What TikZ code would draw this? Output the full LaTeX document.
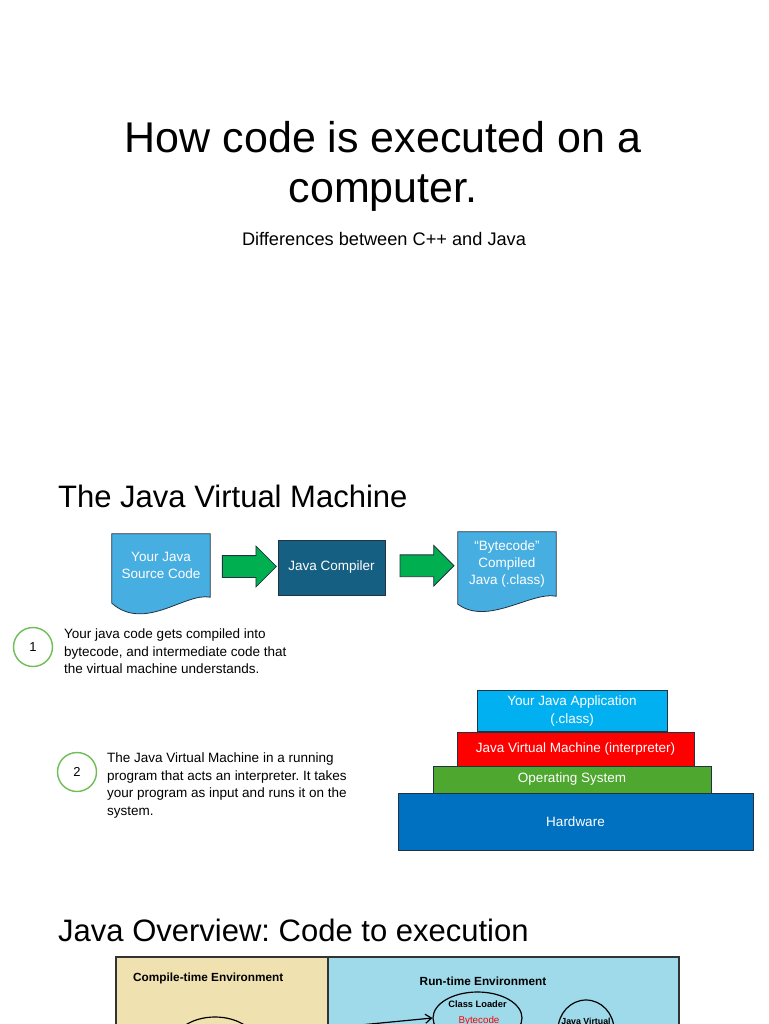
\documentclass[tikz,border=0pt]{standalone}
\usepackage{fontspec}
\setmainfont{Liberation Sans}
\frenchspacing
\usetikzlibrary{shapes.arrows,shapes.geometric,arrows.meta,calc}
\definecolor{docblue}{RGB}{71,174,225}
\definecolor{compteal}{RGB}{21,96,130}
\definecolor{arrowgreen}{RGB}{0,176,80}
\definecolor{circgreen}{RGB}{110,190,85}
\definecolor{appblue}{RGB}{0,176,240}
\definecolor{jvmred}{RGB}{255,0,0}
\definecolor{osgreen}{RGB}{78,167,46}
\definecolor{hwblue}{RGB}{0,112,192}
\definecolor{wheatbg}{RGB}{240,226,176}
\definecolor{skybg}{RGB}{158,218,234}
\definecolor{edgedark}{RGB}{35,50,65}
\begin{document}
\begin{tikzpicture}[x=1pt,y=-1pt,
  docbox/.style={minimum width=98pt,inner sep=0pt,align=center,text=white,font=\fontsize{13.5}{17}\selectfont},
  docshape/.style={fill=docblue,draw=edgedark,line width=0.8pt},
  bigarrow/.style={single arrow,draw=edgedark,fill=arrowgreen,line width=0.8pt,minimum height=54pt,
     single arrow head extend=9.5pt,single arrow tip angle=90,inner sep=0pt,text height=21pt,text depth=0pt,text width=0pt},
  stackbox/.style={draw=edgedark,line width=0.8pt,inner sep=0pt,align=center,text=white,font=\fontsize{13.5}{18}\selectfont},
  stepcircle/.style={circle,draw=circgreen,line width=1.4pt,minimum size=39pt,inner sep=0pt,font=\fontsize{13}{15}\selectfont},
  bodytext/.style={anchor=west,align=left,inner sep=0pt,font=\fontsize{13.5}{17.5}\selectfont},
  heading/.style={anchor=base west,inner sep=0pt,font=\fontsize{31}{36}\selectfont},
  envlabel/.style={inner sep=0pt,font=\bfseries\fontsize{11.8}{14}\selectfont},
  bubble/.style={ellipse,draw=black,line width=1.2pt}
]
\useasboundingbox (0,0) rectangle (768,1024);
\clip (0,0) rectangle (768,1024);
\fill[white] (0,0) rectangle (768,1024);

% Title
\node[anchor=north,inner sep=0pt,align=center,font=\fontsize{43}{50}\selectfont] (title) at (383,121)
  {How code is executed on a\\computer.};
\node[anchor=base,inner sep=0pt,font=\fontsize{18.2}{21}\selectfont] (subtitle) at (384,245)
  {Differences between C++ and Java};

% Section 1
\node[heading] (h1) at (58,507) {The Java Virtual Machine};

\node[docbox,minimum height=63pt] (doc1) at (161,565.5) {};
\draw[docshape] (doc1.north west) -- (doc1.north east) -- (doc1.south east)
   .. controls +(-25,-5) and +(33,29) .. ($(doc1.south west)+(0,6)$) -- cycle;
\node[docbox,minimum height=63pt] (doc1t) at (doc1.center) {Your Java\\Source Code};

\node[minimum width=107pt,minimum height=55pt,fill=compteal,draw=edgedark,line width=0.8pt,
      text=white,inner sep=0pt,font=\fontsize{13.5}{17}\selectfont] (comp) at (331.5,567.5) {Java Compiler};

\node[docbox,minimum height=64pt] (doc2) at (507,564) {};
\draw[docshape] (doc2.north west) -- (doc2.north east) -- (doc2.south east)
   .. controls +(-25,-5) and +(30,22) .. ($(doc2.south west)+(0,8)$) -- cycle;
\node[docbox,minimum height=64pt] (doc2t) at (doc2.center) {“Bytecode”\\Compiled\\Java (.class)};

\node[bigarrow] (arr1) at ($(doc1.east)!0.5!(comp.west)$) {};
\node[bigarrow] (arr2) at ($(comp.east)!0.5!(doc2.west)$) {};

\node[stepcircle] (c1) at (33,647) {1};
\node[bodytext] (t1) at (64,651.5) {Your java code gets compiled into\\bytecode, and intermediate code that\\the virtual machine understands.};

\node[stepcircle] (c2) at (77,772) {2};
\node[bodytext] (t2) at (107,785.5) {The Java Virtual Machine in a running\\program that acts an interpreter. It takes\\your program as input and runs it on the\\system.};

% Stack
\node[stackbox,fill=appblue,minimum width=190pt,minimum height=41pt] (app) at (572,710.5) {Your Java Application\\(.class)};
\node[stackbox,fill=jvmred,minimum width=237pt,minimum height=34pt] (jvm) at (575.5,749) {Java Virtual Machine (interpreter)};
\node[stackbox,fill=osgreen,minimum width=278pt,minimum height=27pt] (os) at (572,779.5) {Operating System};
\node[stackbox,fill=hwblue,minimum width=355pt,minimum height=57pt] (hw) at (575.5,821.5) {Hardware};

% Section 2
\node[heading] (h2) at (58,941) {Java Overview: Code to execution};

\fill[wheatbg] (116,957) rectangle (328,1040);
\fill[skybg] (328,957) rectangle (679,1040);
\draw[black!80,line width=1.5pt] (116,1040) -- (116,957) -- (679,957) -- (679,1040);
\draw[black!80,line width=1.2pt] (328,957) -- (328,1040);

\node[envlabel,anchor=west] (cte) at (133,978.5) {Compile-time Environment};
\node[envlabel] (rte) at (483,981) {Run-time Environment};

\node[bubble,minimum width=84pt,minimum height=56pt] (src) at (215,1045) {};
\node[bubble,minimum width=89pt,minimum height=52pt] (cl) at (477.5,1018) {};
\node[inner sep=0pt,font=\bfseries\fontsize{9.3}{11}\selectfont] (cltxt) at (477.5,1004.5) {Class Loader};
\node[inner sep=0pt,text=red,font=\fontsize{9.8}{11}\selectfont] (bctxt) at (479,1021) {Bytecode};
\node[bubble,minimum width=56pt,minimum height=60pt] (jv) at (586,1030) {};
\node[inner sep=0pt,font=\bfseries\fontsize{8.8}{10}\selectfont] (jvtxt) at (586,1021) {Java Virtual};
\coordinate (arrstart) at (360,1025);
\draw[line width=1.2pt,-{Straight Barb[length=6pt,width=9pt]}] (arrstart) -- (cl.west);
\end{tikzpicture}
\end{document}
